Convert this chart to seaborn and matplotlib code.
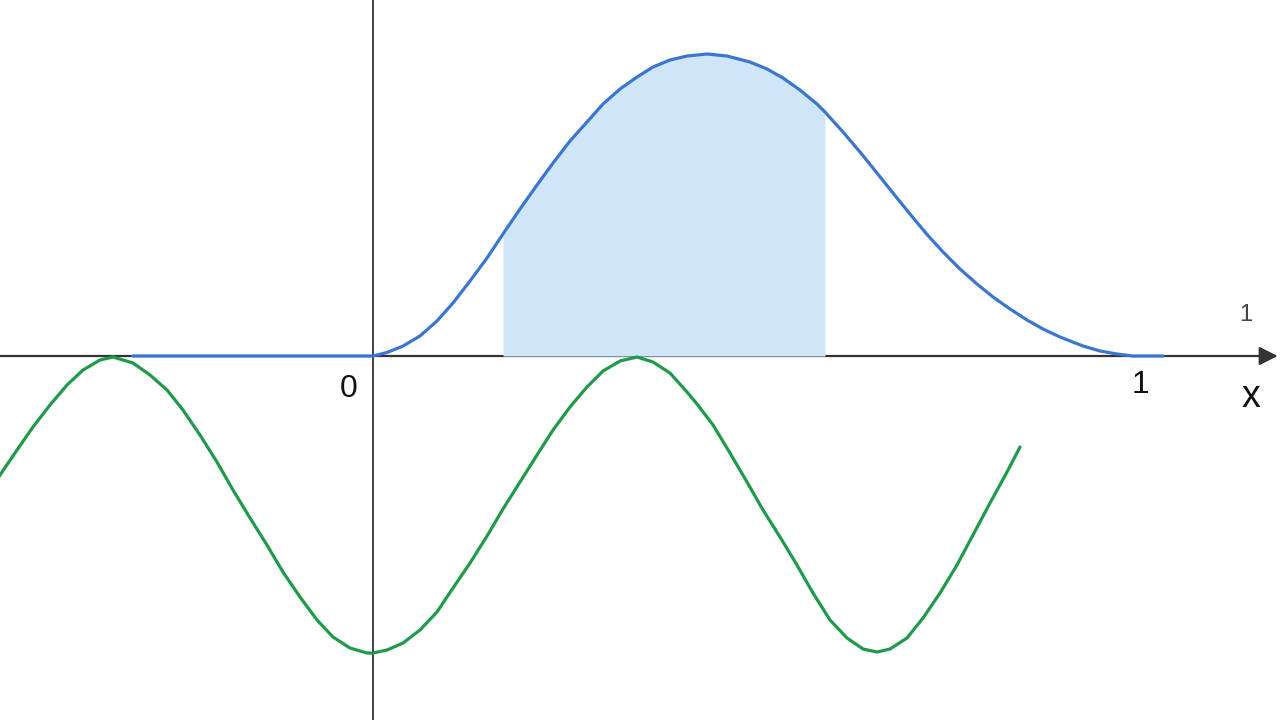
import numpy as np
import pandas as pd
import matplotlib
matplotlib.use("Agg")
import matplotlib.pyplot as plt
import seaborn as sns

# ---- data (x: 0 -> 1 unit, y: peak of blue ~ 1) ----
blue_x = [-0.312, 0.0, 0.0182, 0.039, 0.061, 0.0831, 0.1039, 0.126, 0.1481, 0.1688,
          0.1909, 0.213, 0.2338, 0.2558, 0.2779, 0.2987, 0.3208, 0.3429, 0.3636,
          0.3857, 0.4078, 0.4338, 0.4597, 0.4896, 0.5117, 0.5325, 0.5545, 0.5766,
          0.587, 0.6104, 0.6325, 0.6545, 0.6753, 0.6974, 0.7195, 0.7403, 0.7623,
          0.7844, 0.8052, 0.8273, 0.8494, 0.8701, 0.8922, 0.9221, 0.9442, 0.9662,
          0.987, 1.026]
blue_y = [0.0, 0.0, 0.0117, 0.0333, 0.0667, 0.1167, 0.1767, 0.25, 0.3267, 0.4067,
          0.49, 0.57, 0.6433, 0.7167, 0.78, 0.84, 0.89, 0.93, 0.9633,
          0.9867, 1.0, 1.0067, 1.0, 0.98, 0.9567, 0.9267, 0.8867, 0.84,
          0.8133, 0.7467, 0.68, 0.61, 0.5433, 0.4733, 0.405, 0.3467, 0.29,
          0.24, 0.1967, 0.1567, 0.12, 0.09, 0.0633, 0.0333, 0.0167, 0.0067,
          0.0, 0.0]

green_x = [-0.49, -0.4844, -0.4623, -0.4416, -0.4195, -0.3974, -0.3766, -0.3545, -0.3377,
           -0.3117, -0.2896, -0.2675, -0.2468, -0.2247, -0.2026, -0.1818, -0.1597,
           -0.1377, -0.1169, -0.0948, -0.0727, -0.0519, -0.0299, -0.0078, 0.0,
           0.0182, 0.039, 0.061, 0.0831, 0.1039, 0.126, 0.1481, 0.1688, 0.1909,
           0.213, 0.2338, 0.2558, 0.2779, 0.2987, 0.3208, 0.3429, 0.3636, 0.3857,
           0.4078, 0.4208, 0.4416, 0.4636, 0.4857, 0.5065, 0.5286, 0.5506, 0.5714,
           0.5935, 0.6156, 0.6364, 0.6545, 0.6714, 0.6935, 0.7143, 0.7364, 0.7584,
           0.7792, 0.8013, 0.8234, 0.8403]
green_y = [-0.42, -0.3967, -0.3133, -0.2367, -0.1633, -0.0967, -0.0467, -0.0133, -0.0033,
           -0.0233, -0.0633, -0.1133, -0.18, -0.2633, -0.3533, -0.4467, -0.54,
           -0.63, -0.72, -0.8033, -0.88, -0.9367, -0.9733, -0.99, -0.99,
           -0.98, -0.9567, -0.9133, -0.8533, -0.7733, -0.69, -0.6, -0.51, -0.42,
           -0.33, -0.2467, -0.17, -0.1033, -0.05, -0.0167, -0.0033, -0.02, -0.0567,
           -0.12, -0.16, -0.23, -0.3233, -0.42, -0.5133, -0.6033, -0.6967, -0.79,
           -0.88, -0.94, -0.9767, -0.9867, -0.9767, -0.94, -0.8733, -0.79, -0.6967,
           -0.5967, -0.49, -0.3867, -0.3033]

shade_from, shade_to = 0.1688, 0.587
tick_labels = ["0", "1"]
tick_pos = [0.0, 1.0]
axis_label = "x"

blue_df = pd.DataFrame({"x": blue_x, "y": blue_y})
green_df = pd.DataFrame({"x": green_x, "y": green_y})

sns.set_theme(style="white")
plt.rcParams["font.family"] = ["Liberation Sans", "DejaVu Sans"]

fig = plt.figure(figsize=(12.8, 7.2), dpi=100)
ax = fig.add_axes([0, 0, 1, 1])
ax.set_xlim(-0.4844, 1.1779)
ax.set_ylim(-1.2133, 1.1867)
for s in ax.spines.values():
    s.set_visible(False)
ax.set_xticks([])
ax.set_yticks([])

axis_col = "#333333"
# y axis
ax.axvline(0, color=axis_col, lw=1.3, zorder=1)
# x axis with arrow
ax.annotate("", xy=(1.175, 0), xytext=(-0.49, 0),
            arrowprops=dict(arrowstyle="-|>", color=axis_col, lw=1.6,
                            mutation_scale=28, shrinkA=0, shrinkB=0), zorder=1)

# shaded area
sub = blue_df[(blue_df.x >= shade_from) & (blue_df.x <= shade_to)]
ax.fill_between(sub.x, 0, sub.y, color="#cfe6f8", lw=0, zorder=2)

sns.lineplot(data=blue_df, x="x", y="y", ax=ax, color="#3a76cf", lw=2.3,
             sort=False, estimator=None, zorder=4,
             solid_joinstyle="round", solid_capstyle="round")
sns.lineplot(data=green_df, x="x", y="y", ax=ax, color="#1f9a4a", lw=2.3,
             sort=False, estimator=None, zorder=3,
             solid_joinstyle="round", solid_capstyle="round")
ax.set_xlabel("")
ax.set_ylabel("")

ax.text(-0.032, -0.11, tick_labels[0], fontsize=23, color="#111111",
        ha="center", va="center")
ax.text(tick_pos[1] - 0.003, -0.097, tick_labels[1], fontsize=23, color="#111111",
        ha="center", va="center")
ax.text(1.14, -0.135, axis_label, fontsize=27, color="#111111",
        ha="center", va="center")
ax.text(1.133, 0.137, "1", fontsize=17, color="#444444", ha="center", va="center")

fig.savefig("out.png", dpi=100)
